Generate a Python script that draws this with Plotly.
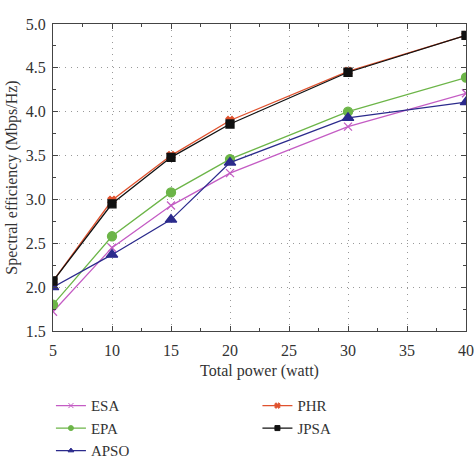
import plotly.graph_objects as go

x_power = [5, 10, 15, 20, 30, 40]
esa = [1.72, 2.45, 2.93, 3.30, 3.83, 4.21]
epa = [1.80, 2.58, 3.08, 3.46, 4.00, 4.39]
apso = [2.00, 2.37, 2.77, 3.42, 3.93, 4.11]
phr = [2.07, 2.99, 3.50, 3.90, 4.46, 4.87]
jpsa = [2.07, 2.95, 3.48, 3.86, 4.45, 4.87]

FONT = "Liberation Serif, Times New Roman, serif"

fig = go.Figure()
series = [
    ("ESA", esa, "#c45cc4", "x-thin-open", 8, "legend"),
    ("EPA", epa, "#6cb548", "circle", 9, "legend"),
    ("APSO", apso, "#2b2a8c", "triangle-up", 10, "legend"),
    ("PHR", phr, "#e0522e", "x", 7, "legend2"),
    ("JPSA", jpsa, "#111111", "square", 8, "legend2"),
]
for name, y, col, sym, sz, lg in series:
    fig.add_trace(go.Scatter(
        x=x_power, y=y, name=name, mode="lines+markers",
        line=dict(color=col, width=1.3),
        marker=dict(symbol=sym, size=sz, color=col, line=dict(color=col, width=1.3)),
        showlegend=False,
    ))
    # legend proxy with small marker
    fig.add_trace(go.Scatter(
        x=[None], y=[None], name=name, mode="lines+markers",
        line=dict(color=col, width=1.3),
        marker=dict(symbol=sym, size=5, color=col, line=dict(color=col, width=1)),
        legend=lg, showlegend=True,
    ))

axis_common = dict(
    showline=True, linecolor="#444", linewidth=1.2, mirror="ticks",
    ticks="inside", ticklen=5, tickcolor="#444",
    showgrid=True, gridcolor="#999999", griddash="1px,5px", gridwidth=1,
    zeroline=False, automargin=False,
    tickfont=dict(family=FONT, size=16, color="#333"),
    title_font=dict(family=FONT, size=16, color="#333"),
    minor=dict(ticks="inside", ticklen=3, tickcolor="#444", showgrid=False),
)

fig.update_xaxes(range=[5, 40], tickvals=[5, 10, 15, 20, 25, 30, 35, 40],
                 title_text="Total power (watt)", title_standoff=6,
                 ticklabelstandoff=5,
                 minor_dtick=2.5, **axis_common)
fig.update_yaxes(range=[1.5, 5.0], dtick=0.5, tickformat=".1f",
                 title_text="Spectral efficiency (Mbps/Hz)", title_standoff=4,
                 ticklabelstandoff=3,
                 minor_dtick=0.25, **axis_common)

leg_common = dict(
    orientation="v", xanchor="left", yanchor="top",
    font=dict(family=FONT, size=15, color="#333"),
    bgcolor="rgba(0,0,0,0)", itemwidth=30, tracegroupgap=0,
)
fig.update_layout(
    width=474, height=474,
    margin=dict(l=53, r=8, t=24, b=143, autoexpand=False),
    paper_bgcolor="white", plot_bgcolor="white",
    legend=dict(x=-0.005, y=-0.19, **leg_common),
    legend2=dict(x=0.495, y=-0.19, **leg_common),
)

fig.write_html("out.html")
